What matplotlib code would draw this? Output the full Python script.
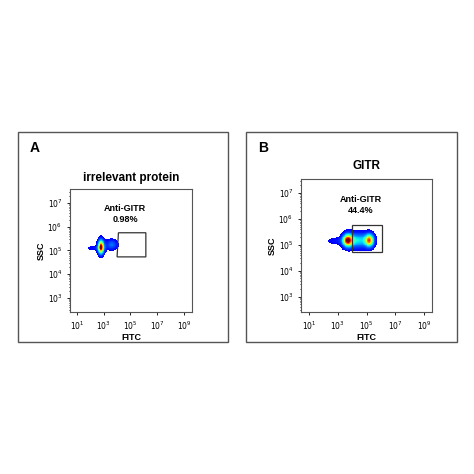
import numpy as np
import matplotlib
matplotlib.use("Agg")
from matplotlib import pyplot as plt
from matplotlib.patches import Rectangle, Polygon

W = H = 474

# cluster descriptions in log10 units: (x, y, sx, sy, weight)
clusters_a = [(2.8, 5.15, 0.16, 0.2, 1.0), (3.6, 5.25, 0.3, 0.15, 0.25), (2.4, 5.1, 0.5, 0.08, 0.1)]
clusters_b = [(3.7, 5.17, 0.25, 0.17, 0.95), (5.2, 5.17, 0.22, 0.17, 0.8),
              (4.45, 5.17, 0.45, 0.2, 0.4), (2.9, 5.15, 0.5, 0.1, 0.1)]
gate_a = [(4.1, 5.75), (6.15, 5.75), (6.15, 4.73), (4.0, 4.73)]
gate_b = [(4.0, 5.75), (6.1, 5.75), (6.1, 4.74), (4.0, 4.74)]
pct_a = "0.98%"
pct_b = "44.4%"
titles = ["irrelevant protein", "GITR"]
letters = ["A", "B"]
x_ticks = [1, 3, 5, 7, 9]
y_ticks = [3, 4, 5, 6, 7]

fig = plt.figure(figsize=(4.74, 4.74), dpi=100)


def px(x0, y0, x1, y1):
    return [x0 / W, 1 - y1 / H, (x1 - x0) / W, (y1 - y0) / H]


def draw_panel(outer, inner, xlim, ylim, clusters, gate, pct, title, letter, title_y):
    x0, y0, x1, y1 = outer
    fig.patches.append(Rectangle((x0 / W, 1 - y1 / H), (x1 - x0) / W, (y1 - y0) / H,
                                 transform=fig.transFigure, fill=False, ec="#555555", lw=1))
    fig.text((x0 + 12) / W, 1 - (y0 + 20) / H, letter, fontsize=10, fontweight="bold",
             family="Liberation Sans")
    ax = fig.add_axes(px(*inner))
    gx = np.linspace(xlim[0], xlim[1], 300)
    gy = np.linspace(ylim[0], ylim[1], 300)
    X, Y = np.meshgrid(gx, gy)
    D = np.zeros_like(X)
    for cx, cy, sx, sy, w in clusters:
        D += w * np.exp(-0.5 * (((X - cx) / sx) ** 2 + ((Y - cy) / sy) ** 2))
    C = np.ma.masked_less(D, 0.05) ** 1.4
    ax.pcolormesh(10 ** gx, 10 ** gy, C, cmap="jet", vmin=-0.12, vmax=1.0, shading="auto")
    ax.set_xscale("log")
    ax.set_yscale("log")
    ax.set_xlim(10 ** xlim[0], 10 ** xlim[1])
    ax.set_ylim(10 ** ylim[0], 10 ** ylim[1])
    ax.add_patch(Polygon([(10 ** a, 10 ** b) for a, b in gate], closed=True,
                         fill=False, ec="#333333", lw=0.9))
    ax.text(10 ** 4.6, 10 ** 6.55, "Anti-GITR\n" + pct, ha="center", va="center",
            fontsize=6.5, fontweight="bold", family="Liberation Sans", linespacing=1.3)
    ax.set_xticks([10.0 ** t for t in x_ticks])
    ax.set_xticklabels([f"$10^{{{t}}}$" for t in x_ticks])
    ax.set_yticks([10.0 ** t for t in y_ticks])
    ax.set_yticklabels([f"$10^{{{t}}}$" for t in y_ticks])
    ax.tick_params(labelsize=5.5, length=2, width=0.6, which="both")
    ax.tick_params(which="minor", length=1)
    ax.set_xlabel("FITC", fontsize=6.5, fontweight="bold", family="Liberation Sans", labelpad=1)
    ax.set_ylabel("SSC", fontsize=6.5, fontweight="bold", family="Liberation Sans", labelpad=1)
    for s in ax.spines.values():
        s.set_color("#555555")
        s.set_linewidth(0.8)
    cx = (inner[0] + inner[2]) / 2
    fig.text(cx / W, 1 - title_y / H, title, ha="center", va="center", fontsize=8.5,
             fontweight="bold", family="Liberation Sans")


draw_panel((18, 132, 228, 342), (70, 189, 192, 312), (0.48, 9.6), (2.4, 7.6),
           clusters_a, gate_a, pct_a, titles[0], letters[0], 178)
draw_panel((246, 132, 457, 342), (301, 179, 432, 312), (0.45, 9.55), (2.4, 7.55),
           clusters_b, gate_b, pct_b, titles[1], letters[1], 166)

fig.savefig("out.png", dpi=100)
